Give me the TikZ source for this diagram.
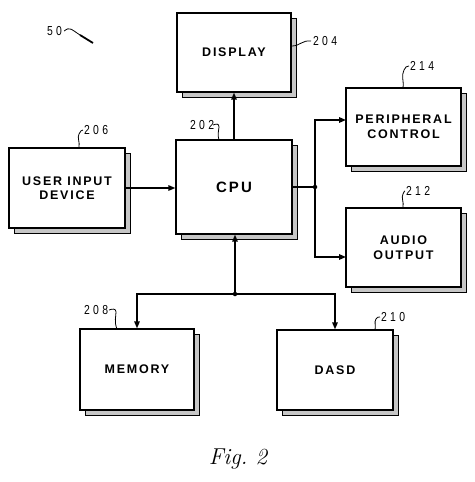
\documentclass[tikz,border=0pt]{standalone}
\usepackage{fontspec}
\setmainfont{Liberation Sans}
\usetikzlibrary{arrows.meta,shadows}
\newfontfamily\boxfont[LetterSpace=14]{Liberation Sans}
\newfontfamily\numfont[LetterSpace=25,FakeStretch=0.8]{Liberation Sans}
\newfontfamily\figfont{Latin Modern Roman}
\begin{document}
\begin{tikzpicture}[x=1pt,y=-1pt,
  blk/.style={draw=black, line width=1.3pt, fill=white, align=center,
    font=\boxfont\fontsize{12.5}{14.5}\selectfont\bfseries,
    drop shadow={shadow xshift=5pt, shadow yshift=-5pt, fill=gray!45, draw=black, line width=0.6pt, opacity=1}},
  num/.style={font=\numfont\fontsize{13}{13}\selectfont, inner sep=0pt, anchor=west},
  lead/.style={line width=0.8pt},
  conn/.style={line width=1.5pt},
  arr/.style={conn, -{Triangle[length=7pt,width=5.5pt]}},
  dot/.style={circle, fill=black, inner sep=0pt, minimum size=4.5pt}]
\useasboundingbox (0,0) rectangle (474,482);
% boxes
\node[blk, minimum width=114pt, minimum height=79pt] (disp) at (234,52.5) {DISPLAY};
\node[blk, minimum width=116pt, minimum height=94pt] (cpu) at (234,187) {\fontsize{15}{17}\selectfont CPU};
\node[blk, minimum width=116pt, minimum height=80pt] (uid) at (67,188) {USER INPUT\\DEVICE};
\node[blk, minimum width=115pt, minimum height=78pt] (per) at (403.5,127) {PERIPHERAL\\CONTROL};
\node[blk, minimum width=115pt, minimum height=79pt] (aud) at (403.5,247.5) {AUDIO\\OUTPUT};
\node[blk, minimum width=114pt, minimum height=81pt] (mem) at (137,369.5) {MEMORY};
\node[blk, minimum width=116pt, minimum height=80pt] (dasd) at (335,370) {DASD};
% junctions
\node[dot] (j1) at (315,187) {};
\node[dot] (j2) at (235,294) {};
\coordinate (pin) at (346,120);
\coordinate (ain) at (346,257);
% connectors
\draw[arr] (cpu.north) -- (cpu.north |- disp.south);
\draw[arr] (uid.east) -- (uid.east -| cpu.west);
\draw[conn] (cpu.east) -- (j1.center);
\draw[arr] (j1.center) |- (pin);
\draw[arr] (j1.center) |- (ain);
\draw[arr] (j2.center) -- (j2.center |- cpu.south);
\draw[arr] (j2.center) -| (mem.north);
\draw[arr] (j2.center) -| (dasd.north);
% reference numerals
\node[num] (n50) at (47,31) {50};
\node[num] (n204) at (313,41) {204};
\node[num] (n214) at (410,66) {214};
\node[num] (n206) at (84,130) {206};
\node[num] (n202) at (190,125) {202};
\node[num] (n212) at (406,191) {212};
\node[num] (n208) at (84,310) {208};
\node[num] (n210) at (381,317) {210};
% leaders
\draw[lead] (n50.east) ++(2,0) .. controls (70,26) and (72,30) .. (80,35);
\draw[line width=1.8pt] (80,35) -- (93,43);
\draw[lead] (292,46) .. controls (300,46) and (302,40) .. (311,41);
\draw[lead] (403,88) .. controls (404,80) and (401,76) .. (404,70) .. controls (405,67) and (407,66) .. (409,66);
\draw[lead] (79,148) .. controls (80,141) and (77,138) .. (79,134) .. controls (80,131) and (82,130) .. (83,130);
\draw[lead] (213,125) .. controls (216,124) and (219,123) .. (219,127) .. controls (219,131) and (217,134) .. (219,140);
\draw[lead] (403,208) .. controls (404,201) and (401,198) .. (403,194) .. controls (404,191) and (405,191) .. (405,191);
\draw[lead] (109,310) .. controls (112,309) and (116,308) .. (116,312) .. controls (116,316) and (114,322) .. (117,329);
\draw[lead] (375,330) .. controls (376,325) and (374,322) .. (376,319) .. controls (377,317) and (378,317) .. (380,317);
% caption
\node[font=\figfont\itshape\fontsize{23}{26}\selectfont] (fig) at (238,459) {Fig.\ 2};
\end{tikzpicture}
\end{document}
